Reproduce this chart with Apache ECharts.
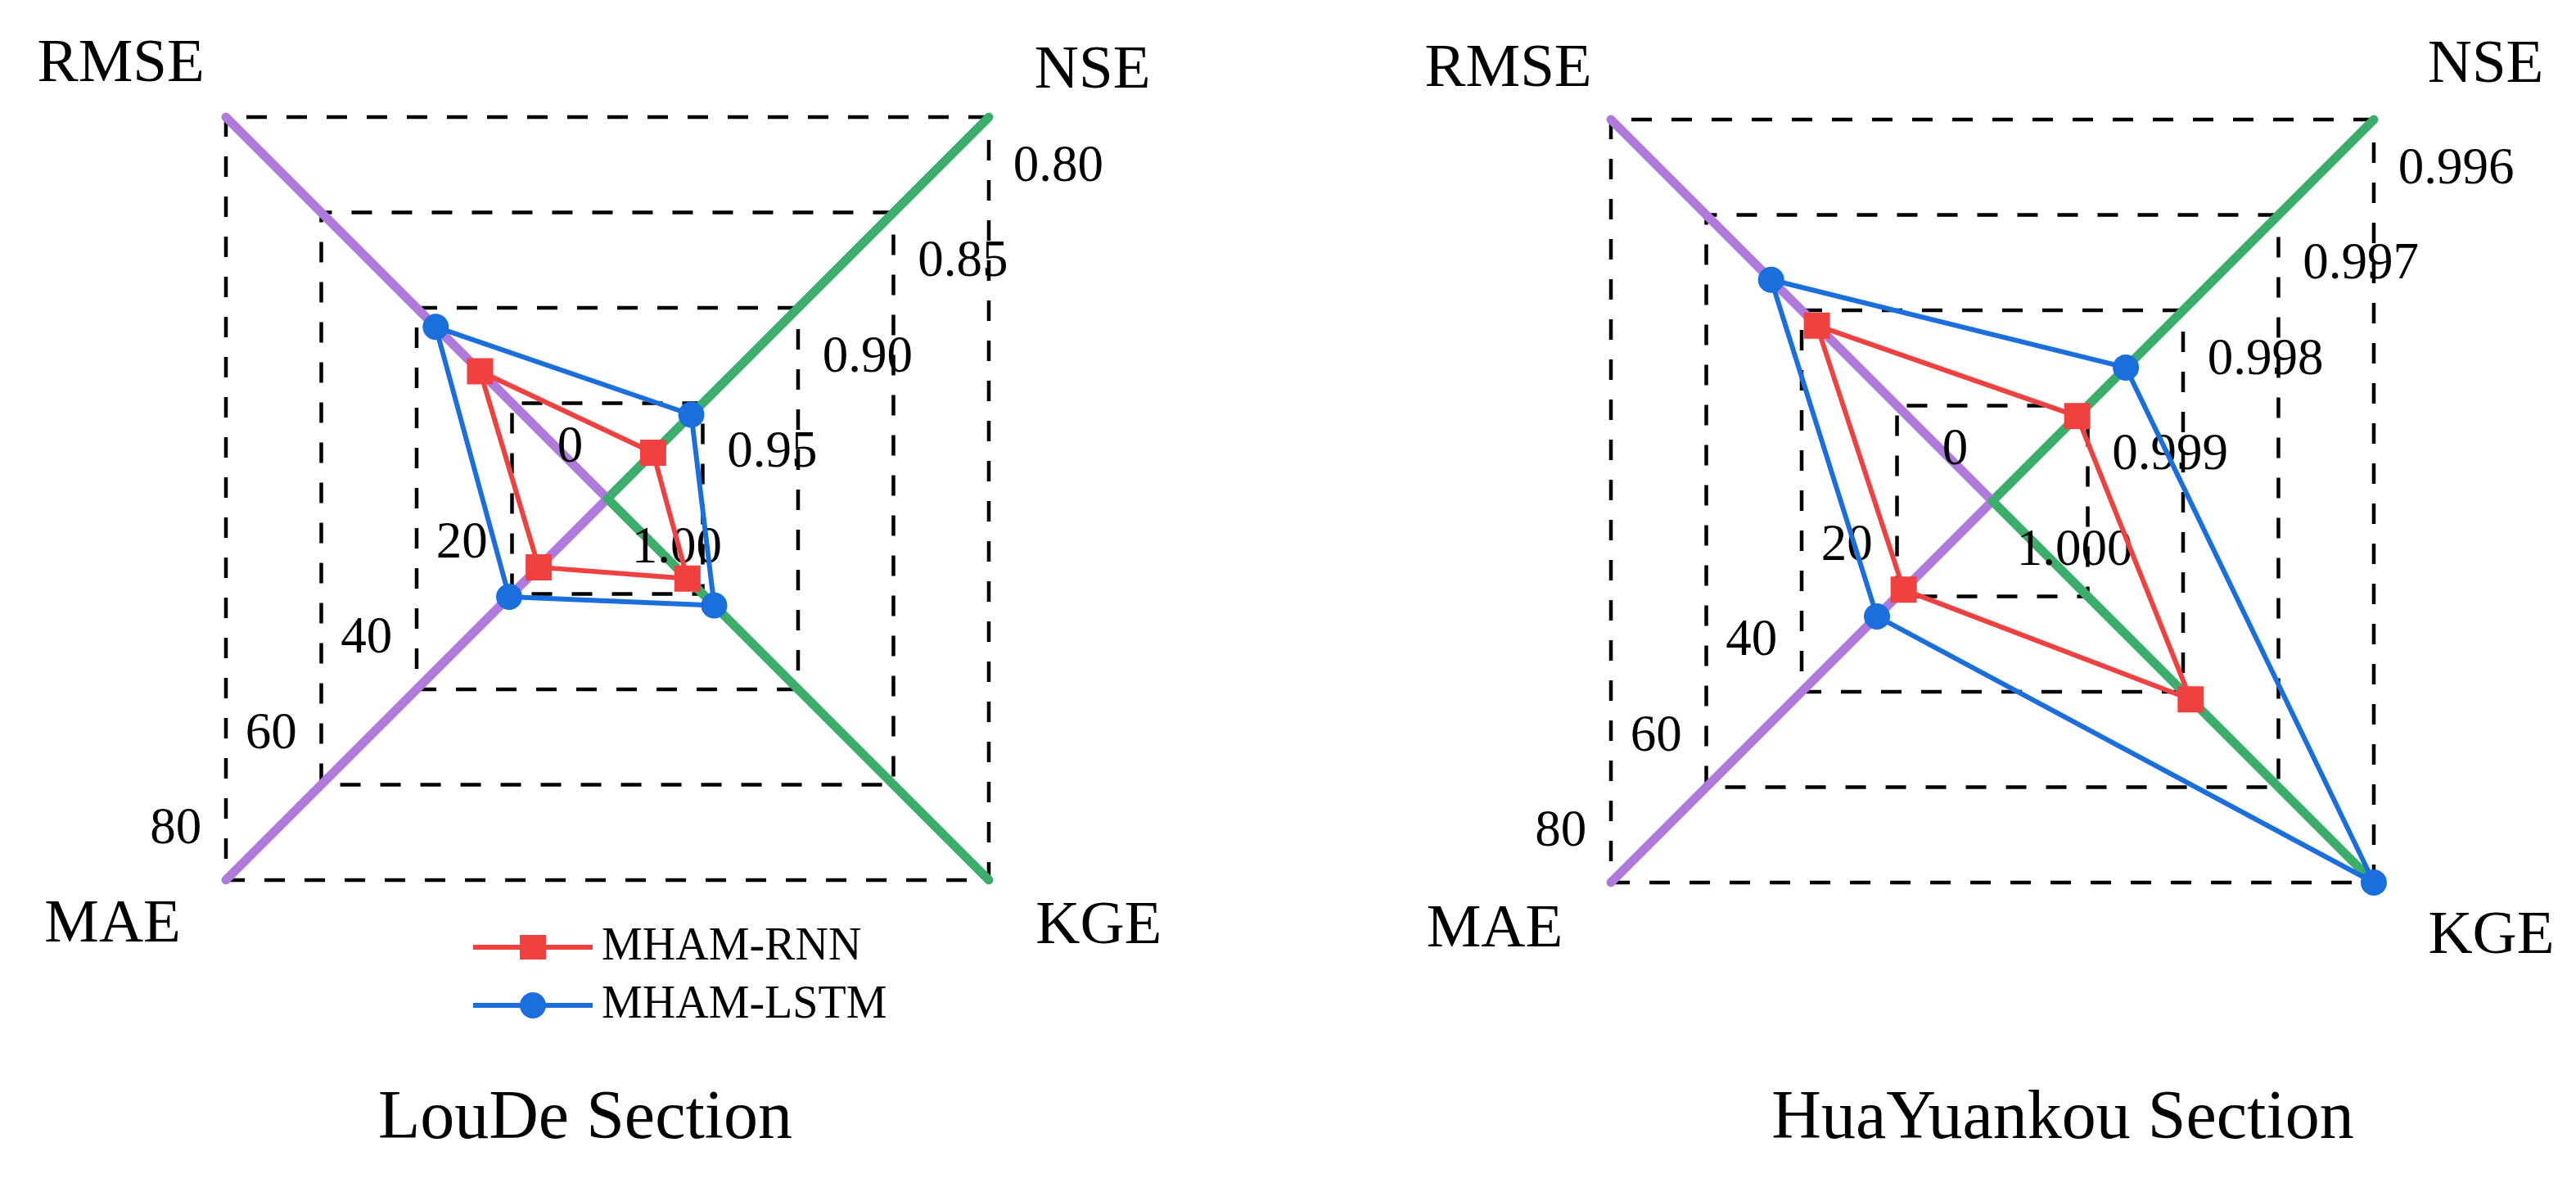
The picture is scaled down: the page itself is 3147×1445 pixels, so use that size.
<!DOCTYPE html>
<html>
<head>
<meta charset="utf-8">
<script src="https://cdn.jsdelivr.net/npm/echarts@6/dist/echarts.min.js"></script>
<style>
html,body{margin:0;padding:0;background:#fff;}
#c{width:3147px;height:1445px;}
</style>
</head>
<body>
<div id="c"></div>
<script>
// ---- data ----
const indicatorNames = ['NSE', 'RMSE', 'MAE', 'KGE'];
const seriesNames = ['MHAM-RNN', 'MHAM-LSTM'];
const sectionTitles = ['LouDe Section', 'HuaYuankou Section'];
// values in order NSE, RMSE, MAE, KGE
const loudeRNN  = [0.976, 26.7, 14.4, 0.958];
const loudeLSTM = [0.956, 36.0, 20.6, 0.944];
const huaRNN    = [0.99911, 36.8, 18.6, 0.99792];
const huaLSTM   = [0.99860, 46.4, 24.2, 0.99600];
// tick labels, centre -> outer
const loudeNseTicks = ['1.00', '0.95', '0.90', '0.85', '0.80'];
const huaNseTicks   = ['1.000', '0.999', '0.998', '0.997', '0.996'];
const errTicks      = ['0', '20', '40', '60', '80'];

// ---- styles ----
const RED = '#F04141', BLUE = '#1B6FDC', GREEN = '#3AAE6A', PURPLE = '#B07ADC';
const FONT = 'Liberation Serif';

function fitTicks(ticks) { // goodness-of-fit axes are drawn as distance from 1
  return { min: 0, max: +(1 - parseFloat(ticks[ticks.length - 1])).toFixed(6) };
}
function toPlot(vals) {
  return [+(1 - vals[0]).toFixed(6), vals[1], vals[2], +(1 - vals[3]).toFixed(6)];
}
function labelCfg(ticks, step, align, vAlign) {
  return {
    show: true, margin: -42, align: align, verticalAlign: vAlign,
    fontSize: 63, lineHeight: 63, color: '#000', fontFamily: FONT,
    formatter: function (v) { return ticks[Math.round(v / step)]; }
  };
}
function makeRadar(center, nseTicks, gaps) {
  const f = fitTicks(nseTicks);
  const errMax = parseFloat(errTicks[errTicks.length - 1]);
  return {
    center: center, radius: 659, startAngle: 45, shape: 'polygon', splitNumber: 4,
    axisName: { color: '#000', fontSize: 75, lineHeight: 75, fontFamily: FONT },
    axisLine: { lineStyle: { width: 11 } },
    axisTick: { show: false },
    axisLabel: { show: false },
    splitLine: { lineStyle: { color: '#000', width: 4.5, type: [25, 24] } },
    splitArea: { show: false },
    indicator: [
      { name: indicatorNames[0], min: f.min, max: f.max, nameGap: gaps[0],
        axisLine: { lineStyle: { color: GREEN } },
        axisLabel: labelCfg(nseTicks, f.max / 4, 'left', 'top') },
      { name: indicatorNames[1], min: 0, max: errMax, nameGap: gaps[1],
        nameTextStyle: { verticalAlign: 'bottom' },
        axisLine: { lineStyle: { color: PURPLE } } },
      { name: indicatorNames[2], min: 0, max: errMax, nameGap: gaps[2],
        axisLine: { lineStyle: { color: PURPLE } },
        axisLabel: labelCfg(errTicks, errMax / 4, 'right', 'bottom') },
      { name: indicatorNames[3], min: f.min, max: f.max, nameGap: gaps[3],
        axisLine: { lineStyle: { color: GREEN } } }
    ]
  };
}
function makeSeries(idx, rnn, lstm) {
  return {
    type: 'radar', radarIndex: idx, symbolSize: 32, z: 5,
    data: [
      { name: seriesNames[0], value: toPlot(rnn), symbol: 'rect',
        itemStyle: { color: RED }, lineStyle: { color: RED, width: 6 } },
      { name: seriesNames[1], value: toPlot(lstm), symbol: 'circle',
        itemStyle: { color: BLUE }, lineStyle: { color: BLUE, width: 6 } }
    ]
  };
}
const rnnIcon = 'path://M0,13H146V19H0Z M57,1H89V31H57Z';
const lstmIcon = 'path://M0,13H146V19H0Z M57,16A16,16 0 1,1 89,16A16,16 0 1,1 57,16Z';

const chart = echarts.init(document.getElementById('c'));
chart.setOption({
  backgroundColor: '#fff',
  animation: false,
  title: [
    { text: sectionTitles[0], left: 715, top: 1326, textAlign: 'center', padding: 0,
      textStyle: { fontSize: 84, lineHeight: 84, fontWeight: 'normal', fontFamily: FONT, color: '#000' } },
    { text: sectionTitles[1], left: 2520, top: 1326, textAlign: 'center', padding: 0,
      textStyle: { fontSize: 84, lineHeight: 84, fontWeight: 'normal', fontFamily: FONT, color: '#000' } }
  ],
  legend: {
    orient: 'vertical', left: 578, top: 1129, padding: 0,
    itemWidth: 146, itemHeight: 32, itemGap: 15,
    itemStyle: { borderWidth: 0 },
    textStyle: { fontSize: 56, lineHeight: 56, fontFamily: FONT, color: '#000', padding: [0, 0, 0, 6] },
    data: [
      { name: seriesNames[0], icon: rnnIcon, itemStyle: { color: RED } },
      { name: seriesNames[1], icon: lstmIcon, itemStyle: { color: BLUE } }
    ]
  },
  radar: [
    makeRadar([742, 609], loudeNseTicks, [79, 37, 78, 81]),
    makeRadar([2434, 612], huaNseTicks, [93, 33, 83, 94])
  ],
  series: [
    makeSeries(0, loudeRNN, loudeLSTM),
    makeSeries(1, huaRNN, huaLSTM)
  ]
});
</script>
</body>
</html>
